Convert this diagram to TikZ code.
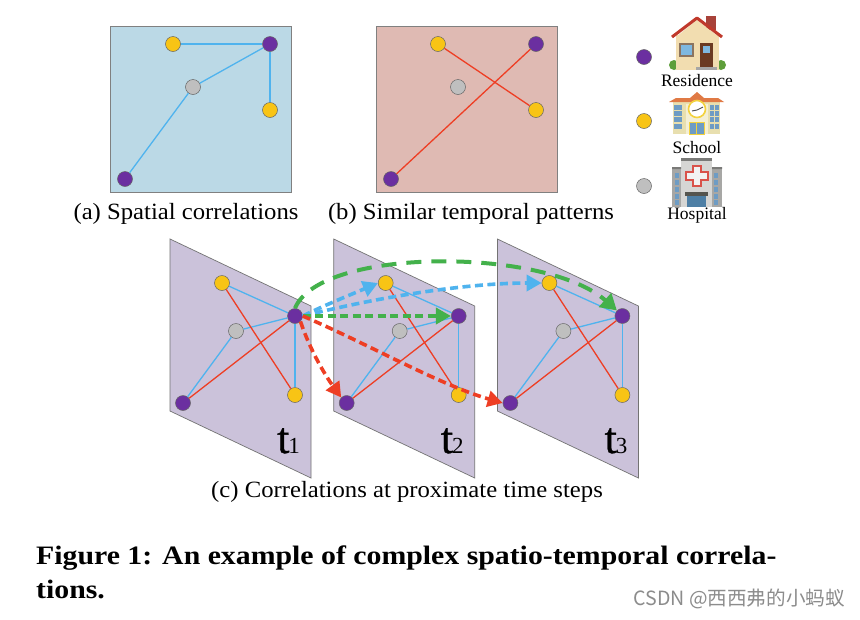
\documentclass[tikz,border=0pt]{standalone}
\usepackage{fontspec}
\setmainfont{Liberation Serif}
\newfontfamily\cjkmark{Noto Sans CJK SC}
\newfontfamily\capfont[FakeStretch=1.06]{Liberation Serif}
\newfontfamily\figfont[FakeStretch=1.12]{Liberation Serif}
\newfontfamily\tfont[FakeBold=0.8]{Liberation Serif}
\usetikzlibrary{arrows.meta,calc}
\definecolor{pu}{HTML}{6B2FA0}
\definecolor{ye}{HTML}{F8C415}
\definecolor{gr}{HTML}{BFBFBF}
\definecolor{bl}{HTML}{4FB3EE}
\definecolor{re}{HTML}{EE3E24}
\definecolor{gn}{HTML}{43B14B}
\definecolor{pa}{HTML}{BBD9E6}
\definecolor{pb}{HTML}{DFBAB3}
\definecolor{pc}{HTML}{CBC2DA}
\definecolor{wn}{HTML}{6E9CC4}
\definecolor{hwall}{HTML}{F2DDB0}
\definecolor{hroof}{HTML}{C0392B}
\definecolor{hchim}{HTML}{A8423A}
\definecolor{hfrm}{HTML}{8C7460}
\definecolor{hglass}{HTML}{7FB8E0}
\definecolor{hdoor}{HTML}{6B3A22}
\definecolor{hbush}{HTML}{5E9E3A}
\definecolor{swall}{HTML}{E8DFAF}
\definecolor{sroof}{HTML}{E07A45}
\definecolor{scen}{HTML}{F4EFD5}
\definecolor{sgold}{HTML}{F3D23E}
\definecolor{wing}{HTML}{A7A7A5}
\definecolor{hmain}{HTML}{D6D6D4}
\definecolor{hdark}{HTML}{7A7A78}
\definecolor{hcross}{HTML}{D9524A}
\definecolor{hcan}{HTML}{55554F}
\definecolor{hent}{HTML}{4E7FA5}
\tikzset{
  x=1pt,y=-1pt,
  dot/.style={circle,draw=black!60,line width=.5pt,inner sep=0pt,minimum size=15pt},
  pdot/.style={dot,fill=pu},ydot/.style={dot,fill=ye},gdot/.style={dot,fill=gr},
  bline/.style={bl,line width=1.3pt},rline/.style={re,line width=1.3pt},
  panel/.style={draw=black!55,line width=.7pt,fill=pc},
  sq/.style={draw=black!50,line width=.6pt,minimum width=181pt,minimum height=166pt,inner sep=0pt},
  captxt/.style={font=\capfont\fontsize{23.3}{26}\selectfont,inner sep=0pt},
  lab/.style={font=\fontsize{17.5}{18}\selectfont,inner sep=0pt},
  tlab/.style={inner sep=0pt,anchor=base west},
  figtxt/.style={font=\figfont\fontsize{26.6}{30}\selectfont\bfseries,inner sep=0pt,anchor=base west},
  dashb/.style={bl,line width=3.6pt,dash pattern=on 8pt off 4.5pt,-{Triangle[length=15pt,width=16pt,fill=bl]}},
  dashr/.style={re,line width=3.6pt,dash pattern=on 8pt off 4.5pt,-{Triangle[length=15pt,width=16pt,fill=re]}},
  dashg/.style={gn,line width=3.6pt,dash pattern=on 8pt off 4.5pt,-{Triangle[length=15pt,width=16pt,fill=gn]}},
  dashgl/.style={gn,line width=4pt,dash pattern=on 15pt off 10pt,-{Triangle[length=16pt,width=18pt,fill=gn]}},
}
\begin{document}
\begin{tikzpicture}
\useasboundingbox (0,0) rectangle (860,619);
\fill[white] (0,0) rectangle (860,619);
% --- panels a and b
\node[sq,fill=pa] (pa) at (200.5,109) {};
\node[sq,fill=pb] (pb) at (466.5,109) {};
\node[ydot] (ay) at (173,44) {};
\node[pdot] (ap) at (270,44) {};
\node[gdot] (ag) at (193,87) {};
\node[ydot] (ay2) at (270,110) {};
\node[pdot] (ap2) at (125,179) {};
\draw[bline] (ay)--(ap);
\draw[bline] (ap)--(ag);
\draw[bline] (ap)--(ay2);
\draw[bline] (ag)--(ap2);
\node[ydot] (by) at (438,44) {};
\node[pdot] (bp) at (536,44) {};
\node[gdot] (bg) at (458,87) {};
\node[ydot] (by2) at (536,110) {};
\node[pdot] (bp2) at (391,179) {};
\draw[rline] (by)--(by2);
\draw[rline] (bp)--(bp2);
\node[captxt] (capa) at (186,214) {(a) Spatial correlations};
\node[captxt] (capb) at (471,214) {(b) Similar temporal patterns};
% --- panels c
\foreach \i/\dx in {1/0,2/163.7,3/327.4}{
  \begin{scope}[shift={(\dx,0)}]
  \draw[panel] (170,239)--(311,306)--(311,478)--(170,411)--cycle;
  \node[ydot] (y\i) at (222,283) {};
  \node[pdot] (p\i) at (295,316) {};
  \node[gdot] (g\i) at (236,331) {};
  \node[ydot] (z\i) at (295,395) {};
  \node[pdot] (q\i) at (183,403) {};
  \draw[bline] (y\i)--(p\i);
  \draw[bline] (p\i)--(g\i);
  \draw[bline] (g\i)--(q\i);
  \draw[bline] (p\i)--(z\i);
  \draw[rline] (y\i)--(z\i);
  \draw[rline] (p\i)--(q\i);
  \node[tlab] (t\i) at (277,453) {\tfont\fontsize{44}{44}\selectfont t\kern-1pt\normalfont\fontsize{23}{23}\selectfont\i};
  \end{scope}
}
% --- dashed connectors
\draw[dashgl] (p1.north) .. controls (320,247) and (545,247) .. (p3.north west);
\draw[dashb] (p1.east) .. controls (325,305) and (350,295) .. (y2.west);
\draw[dashb] (p1.east) .. controls (400,292) and (480,283) .. (y3.west);
\draw[dashg] (p1.east) -- (p2.west);
\draw[dashr] (p1.south east) .. controls (310,350) and (325,375) .. (q2.north west);
\draw[dashr] (p1.east) .. controls (370,345) and (440,385) .. (q3.west);
% --- legend
\node[pdot] (lp) at (644,57) {};
\node[ydot] (ly) at (644,121) {};
\node[gdot] (lg) at (644,186) {};
\node[lab] (lr) at (697,81) {Residence};
\node[lab] (ls) at (697,148) {School};
\node[lab] (lh) at (697,215) {Hospital};
% house
\fill[hbush] (674,65) circle (5pt) (721,65) circle (5pt);
\fill[hchim] (706,16) rectangle (716,30);
\fill[hwall] (676,35) rectangle (719,70);
\fill[hwall] (676,37)--(697,20)--(719,37)--cycle;
\fill[gray!70] (696,67) rectangle (717,70);
\draw[hroof,line width=3pt,line join=round] (672,37)--(697,18)--(722,37);
\fill[hfrm] (679,43) rectangle (694,57);
\fill[hglass] (681,45) rectangle (692,55);
\fill[hdoor] (700,43) rectangle (713,67);
\fill[hglass] (703,46) rectangle (710,53);
% school
\fill[swall] (673,102) rectangle (720,134);
\fill[sroof] (669,102)--(676,98)--(690,98)--(697,92)--(704,98)--(718,98)--(724,102)--cycle;
\foreach \xx in {674,678,710,715}{\foreach \yy in {105,111,117,124}{\fill[wn] (\xx,\yy) rectangle ++(3.5,4.5);}}
\fill[scen] (686,104) rectangle (708,134);
\draw[sgold,line width=1.6pt,fill=white] (697,109) circle (8.5pt);
\draw[black!70,line width=.9pt] (697,110)--(703,107) (697,110)--(692,111);
\fill[wn] (689,122) rectangle (704,134);
\draw[sgold,line width=1pt] (689,122) rectangle (704,134) (696.5,122)--(696.5,134);
% hospital
\fill[wing] (672,167) rectangle (722,207);
\fill[hmain] (681,158) rectangle (712,207);
\fill[hdark] (681,158) rectangle (712,161);
\fill[hdark] (672,167) rectangle (681,169) (712,167) rectangle (722,169);
\foreach \xx in {675,714}{\foreach \yy in {173,180,187,194,200}{\fill[wn] (\xx,\yy) rectangle ++(3.5,4.5);}}
\draw[hcross,line width=1.5pt,fill=white!90!gray,line join=miter]
  (693,166)--(701,166)--(701,172)--(708,172)--(708,180)--(701,180)--(701,186)--(693,186)--(693,180)--(686,180)--(686,172)--(693,172)--cycle;
\fill[hcan] (685,192) rectangle (708,196);
\fill[hent] (687,196) rectangle (706,207);
% captions
\node[captxt] (capc) at (407,492) {(c) Correlations at proximate time steps};
\node[figtxt] (f1) at (36,564) {Figure 1: An example of complex spatio-temporal correla-};
\node[figtxt] (f2) at (36,598) {tions.};
\node[inner sep=0pt,anchor=base east,text=black!45,font=\fontsize{19.6}{22}\selectfont\cjkmark] (wm) at (845,605) {CSDN @西西弗的小蚂蚁};
\end{tikzpicture}
\end{document}
